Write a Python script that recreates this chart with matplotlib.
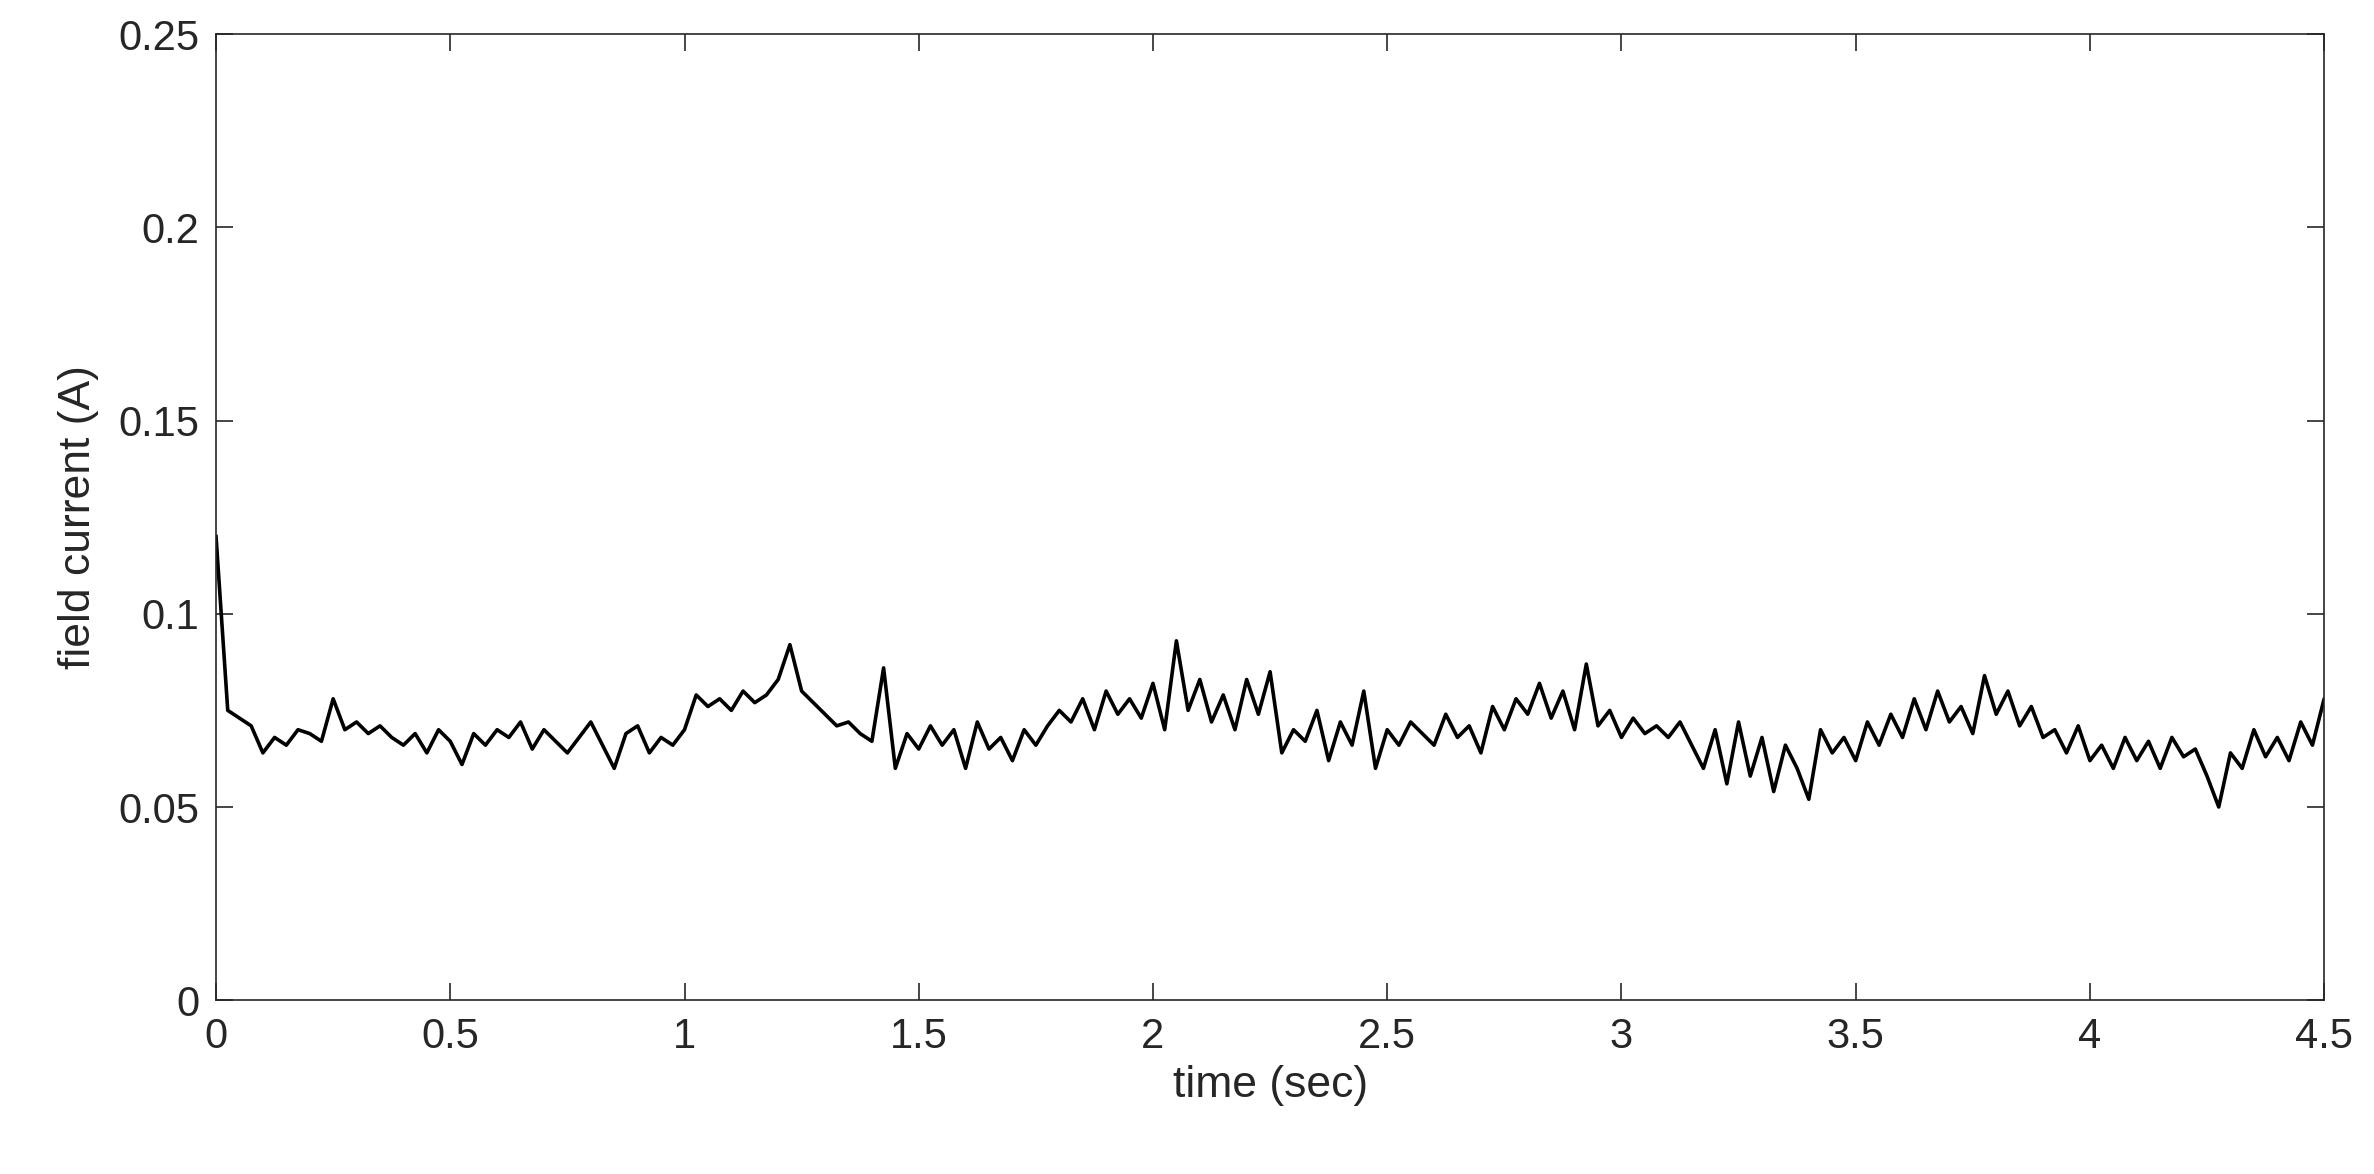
import matplotlib
matplotlib.use("Agg")
import matplotlib.pyplot as plt
import numpy as np

plt.rcParams['font.family'] = ['Liberation Sans', 'DejaVu Sans']

time_step = 0.025
field_current = [
    0.120, 0.075, 0.073, 0.071, 0.064, 0.068, 0.066, 0.070, 0.069, 0.067, 0.078, 0.070, 0.072, 0.069, 0.071, 0.068, 0.066, 0.069, 0.064, 0.070,
    0.067, 0.061, 0.069, 0.066, 0.070, 0.068, 0.072, 0.065, 0.070, 0.067, 0.064, 0.068, 0.072, 0.066, 0.060, 0.069, 0.071, 0.064, 0.068, 0.066, 0.070,
    0.079, 0.076, 0.078, 0.075, 0.080, 0.077, 0.079, 0.083, 0.092, 0.080, 0.077, 0.074, 0.071, 0.072, 0.069, 0.067, 0.086, 0.060, 0.069, 0.065,
    0.071, 0.066, 0.070, 0.060, 0.072, 0.065, 0.068, 0.062, 0.070, 0.066, 0.071, 0.075, 0.072, 0.078, 0.070, 0.080, 0.074, 0.078, 0.073, 0.082, 0.070,
    0.093, 0.075, 0.083, 0.072, 0.079, 0.070, 0.083, 0.074, 0.085, 0.064, 0.070, 0.067, 0.075, 0.062, 0.072, 0.066, 0.080, 0.060, 0.070, 0.066, 0.072,
    0.069, 0.066, 0.074, 0.068, 0.071, 0.064, 0.076, 0.070, 0.078, 0.074, 0.082, 0.073, 0.080, 0.070, 0.087, 0.071, 0.075, 0.068, 0.073, 0.069, 0.071,
    0.068, 0.072, 0.066, 0.060, 0.070, 0.056, 0.072, 0.058, 0.068, 0.054, 0.066, 0.060, 0.052, 0.070, 0.064, 0.068, 0.062, 0.072, 0.066, 0.074, 0.068,
    0.078, 0.070, 0.080, 0.072, 0.076, 0.069, 0.084, 0.074, 0.080, 0.071, 0.076, 0.068, 0.070, 0.064, 0.071, 0.062, 0.066, 0.060, 0.068, 0.062, 0.067,
    0.060, 0.068, 0.063, 0.065, 0.058, 0.050, 0.064, 0.060, 0.070, 0.063, 0.068, 0.062, 0.072, 0.066, 0.078, 0.070, 0.084, 0.074, 0.088, 0.070, 0.090,
    0.078,
]
time = np.arange(len(field_current)) * time_step

fig = plt.figure(figsize=(23.74, 11.74), dpi=100)
ax = fig.add_axes([0.091, 0.148, 0.888, 0.823])
ax.plot(time, field_current, color='black', linewidth=2.6)
ax.set_xlim(0, 4.5)
ax.set_ylim(0, 0.25)
ax.set_xticks([0, 0.5, 1, 1.5, 2, 2.5, 3, 3.5, 4, 4.5])
ax.set_xticklabels(['0', '0.5', '1', '1.5', '2', '2.5', '3', '3.5', '4', '4.5'])
ax.set_yticks([0, 0.05, 0.1, 0.15, 0.2, 0.25])
ax.set_yticklabels(['0', '0.05', '0.1', '0.15', '0.2', '0.25'])
ax.tick_params(direction='in', top=True, right=True, labelsize=30, length=12, width=1.2,
               colors='#262626', pad=12)
for s in ax.spines.values():
    s.set_linewidth(1.2)
    s.set_color('#262626')
ax.set_xlabel('time (sec)', fontsize=32, color='#262626', labelpad=6)
ax.set_ylabel('field current (A)', fontsize=32, color='#262626', labelpad=14)
fig.savefig('out.png', dpi=100)
